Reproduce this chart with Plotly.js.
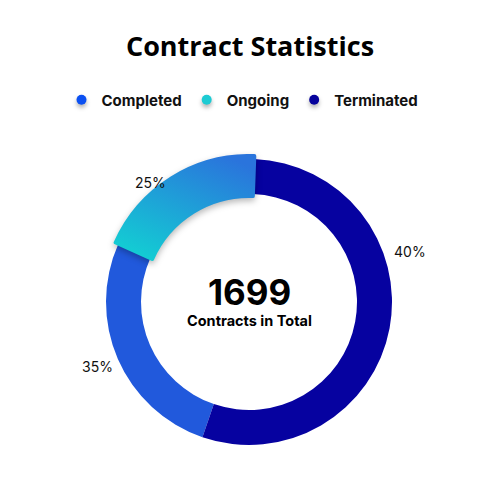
<!DOCTYPE html>
<html>
<head>
<meta charset="utf-8">
<script src="https://cdn.plot.ly/plotly-3.0.1.min.js"></script>
<style>
  html, body { margin: 0; padding: 0; background: #ffffff; }
  #chart { width: 500px; height: 491px; }
</style>
</head>
<body>
<div id="chart"></div>
<script>
// ---- data ----
const categories = ["Completed", "Ongoing", "Terminated"];
// arc sizes measured on the ring (share of the full circle)
const arcShares = [26.4, 18.9, 54.7];
// percentage labels as printed on the chart
const percentLabels = ["35%", "25%", "40%"];
const totalContracts = 1699;
const totalCaption = "Contracts in Total";

// ---- styling ----
const sliceColors = ["#2159dc", "#1ba6d8", "#0602a0"];
const legendColors = ["#0b50f2", "#1dcbd3", "#06039c"];
const FONT = "Inter, 'Noto Sans', sans-serif";

const cx = 249, cy = 302, W = 500, H = 491;
function dom(r) {
  return {
    x: [(cx - r) / W, (cx + r) / W],
    y: [(H - cy - r) / H, (H - cy + r) / H]
  };
}

const ringPie = {
  type: "pie",
  labels: categories,
  values: arcShares,
  sort: false,
  direction: "clockwise",
  rotation: 199,
  hole: 108 / 143,
  domain: dom(143),
  marker: {
    colors: [sliceColors[0], "rgba(0,0,0,0)", sliceColors[2]],
    line: { width: 0 }
  },
  textinfo: "none",
  hoverinfo: "skip",
  showlegend: false
};

const highlightPie = {
  type: "pie",
  labels: categories,
  values: arcShares,
  sort: false,
  direction: "clockwise",
  rotation: 199,
  hole: 106 / 146,
  domain: dom(146),
  marker: {
    colors: ["rgba(0,0,0,0)", sliceColors[1], "rgba(0,0,0,0)"],
    line: { width: 0 }
  },
  textinfo: "none",
  hoverinfo: "skip",
  showlegend: false
};

const legendTraces = categories.map((c, i) => ({
  type: "scatter",
  mode: "markers",
  x: [null], y: [null],
  name: c,
  marker: { color: legendColors[i], size: 10 },
  showlegend: true,
  hoverinfo: "skip"
}));

// percentage label positions (paper px) around the ring
const labelPos = [[97, 366], [150, 182], [410, 251]];
const annotations = percentLabels.map((t, i) => ({
  xref: "paper", yref: "paper",
  x: labelPos[i][0] / W, y: 1 - labelPos[i][1] / H,
  xanchor: "center", yanchor: "middle",
  text: t, showarrow: false,
  font: { family: FONT, size: 14, color: "#111111" }
}));
annotations.push({
  xref: "paper", yref: "paper",
  x: 249 / W, y: 1 - 292 / H,
  xanchor: "center", yanchor: "middle",
  text: "<b>" + totalContracts + "</b>", showarrow: false,
  font: { family: FONT, size: 35, color: "#000000" }
});
annotations.push({
  xref: "paper", yref: "paper",
  x: 249 / W, y: 1 - 320 / H,
  xanchor: "center", yanchor: "middle",
  text: "<b>" + totalCaption + "</b>", showarrow: false,
  font: { family: FONT, size: 14.5, color: "#000000" }
});

const layout = {
  width: W, height: H,
  margin: { l: 0, r: 0, t: 0, b: 0 },
  paper_bgcolor: "#ffffff",
  plot_bgcolor: "#ffffff",
  title: {
    text: "<b>Contract Statistics</b>",
    x: 0.5, xanchor: "center",
    y: 1 - 47 / H, yanchor: "middle",
    font: { family: "'Open Sans', sans-serif", size: 27, color: "#000000" }
  },
  xaxis: { visible: false, domain: [0, 0.01] },
  yaxis: { visible: false, domain: [0, 0.01] },
  showlegend: true,
  legend: {
    orientation: "h",
    x: 0.485, xanchor: "center",
    y: 1 - 100 / H, yanchor: "middle",
    font: { family: FONT, size: 15, color: "#111111", weight: 700 },
    itemclick: false, itemdoubleclick: false
  },
  annotations: annotations
};

Plotly.newPlot("chart", [ringPie, highlightPie].concat(legendTraces), layout, { staticPlot: true, displayModeBar: false })
  .then(() => {
    const svg = document.querySelector("#chart .main-svg");
    const ns = "http://www.w3.org/2000/svg";
    let defs = svg.querySelector("defs");
    if (!defs) { defs = document.createElementNS(ns, "defs"); svg.insertBefore(defs, svg.firstChild); }
    const g = document.createElementNS(ns, "linearGradient");
    g.setAttribute("id", "ongoingGrad");
    g.setAttribute("x1", "0.8"); g.setAttribute("y1", "0");
    g.setAttribute("x2", "0.2"); g.setAttribute("y2", "1");
    [["0", "#2a74dc"], ["1", "#13cdd3"]].forEach(([o, c]) => {
      const s = document.createElementNS(ns, "stop");
      s.setAttribute("offset", o); s.setAttribute("stop-color", c);
      g.appendChild(s);
    });
    defs.appendChild(g);
    const traces = document.querySelectorAll("#chart .pielayer .trace");
    if (traces.length > 1) {
      const slices = traces[1].querySelectorAll(".slice path.surface");
      if (slices[1]) {
        const p = slices[1];
        p.style.fill = "url(#ongoingGrad)";
        p.style.stroke = "url(#ongoingGrad)";
        p.style.strokeWidth = "4px";
        p.style.strokeLinejoin = "round";
        p.style.filter = "drop-shadow(0px 3px 3px rgba(0,0,0,0.28))";
      }
    }
    document.querySelectorAll("#chart .legendpoints path").forEach(p => {
      p.style.filter = "drop-shadow(0px 3px 2px rgba(0,0,0,0.3))";
    });
  });
</script>
</body>
</html>
